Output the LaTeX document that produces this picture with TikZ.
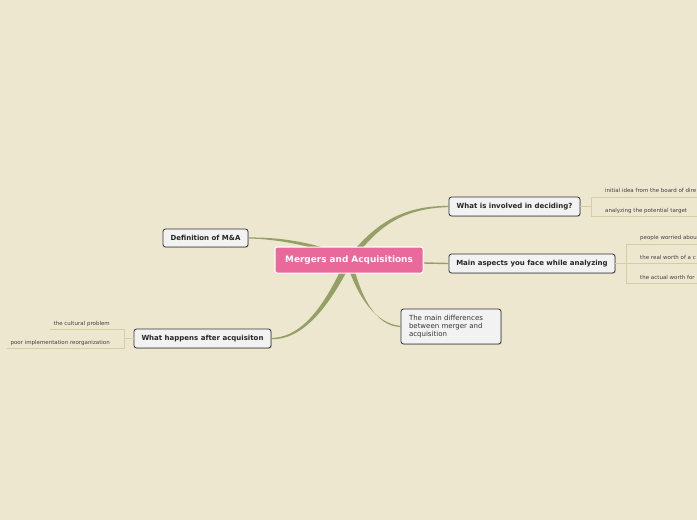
\documentclass[tikz,border=0pt]{standalone}
\usepackage{fontspec}
\setmainfont{DejaVu Sans}
\usetikzlibrary{positioning,shadows}

\definecolor{paper}{HTML}{EEE7D0}
\definecolor{rose}{HTML}{E8699A}
\definecolor{olive}{HTML}{95A067}
\definecolor{tanline}{HTML}{D3CEA4}
\definecolor{boxgray}{HTML}{F2F2F2}

\begin{document}
\begin{tikzpicture}[x = 1pt, y = -1pt, % pixel grid, y down
        central/.style = {draw = white, fill = rose, rounded corners = 2pt,
            line width = 1pt, text = white,
            font = \fontsize{8.9}{10}\selectfont\bfseries,
            minimum width = 148pt, minimum height = 26pt},
        topic/.style = {draw = black!80, fill = boxgray, rounded corners = 2.5pt,
            line width = 0.8pt, font = \fontsize{7}{8}\selectfont\bfseries,
            text = black!85, minimum height = 19pt, inner sep = 0pt,
            drop shadow = {shadow xshift = 0.8pt, shadow yshift = -0.8pt, opacity = 0.3}},
        leaf/.style = {font = \fontsize{5.5}{6}\selectfont, text = black!75,
            inner sep = 0pt},
        bracket/.style = {draw = tanline, line width = 0.8pt},
        branch/.style = {fill = olive}
    ]

    \fill[paper] (0,0) rectangle (697,520);
    \useasboundingbox (0,0) rectangle (697,520);

    % main topics
    \node[central] (ma) at (349,260) {Mergers and Acquisitions};
    \node[topic, minimum width = 131pt] (decide) at (514.5,206.5) {What is involved in deciding?};
    \node[topic, minimum width = 166pt] (aspects) at (532,263.5) {Main aspects you face while analyzing};
    \node[topic, minimum width = 85pt, minimum height = 18pt] (define) at (205.5,238) {Definition of M\&A};
    \node[topic, minimum width = 137pt] (after) at (202.5,338.5) {What happens after acquisiton};
    \node[topic, minimum width = 100pt, minimum height = 35pt, align = left,
        font = \fontsize{7}{8.4}\selectfont, text = black!80, text width = 84pt]
        (diff) at (451,326.5) {The main differences\\between merger and\\acquisition};

    % branches (tapered, drawn under the central node)
    \fill[branch] ([xshift = -3.5pt]ma.center) .. controls (370,230.5) and (395,205.5) .. ([yshift = 0.6pt]decide.west)
        -- ([yshift = -0.6pt]decide.west) .. controls (395,208.5) and (374,233.5) .. ([xshift = 3.5pt]ma.center) -- cycle;
    \fill[branch] ([xshift = -3.5pt]ma.center) .. controls (327.5,299) and (305,337.5) .. ([yshift = 0.6pt]after.east)
        -- ([yshift = -0.6pt]after.east) .. controls (305,340.5) and (332.5,301) .. ([xshift = 3.5pt]ma.center) -- cycle;
    \fill[branch] ([xshift = -3pt]ma.center) .. controls (356,295) and (375,323.7) .. ([yshift = 0.6pt]diff.west)
        -- ([yshift = -0.6pt]diff.west) .. controls (375,326.3) and (360,295) .. ([xshift = 3pt]ma.center) -- cycle;
    \fill[branch] ([yshift = 2.5pt]ma.center) .. controls (320,243.2) and (280,236.9) .. ([yshift = 0.5pt]define.east)
        -- ([yshift = -0.5pt]define.east) .. controls (280,239.1) and (320,246.8) .. ([yshift = -2.5pt]ma.center) -- cycle;
    \draw[olive, line width = 1.4pt] ([yshift = -3pt]ma.east) -- (aspects.west);
    \node[central] at (ma) {Mergers and Acquisitions};

    % leaves of "What is involved in deciding?"
    \coordinate (d0) at (591,206.5);
    \coordinate (d1) at (591,197); \coordinate (d2) at (591,216);
    \draw[bracket] (decide.east) -- (d0);
    \draw[bracket] (697,197) -- (d1) -- (d2) -- (697,216);
    \node[leaf, anchor = base west] (d1t) at (605,192.5) {initial idea from the board of dire};
    \node[leaf, anchor = base west] (d2t) at (605,212.5) {analyzing the potential target};

    % leaves of "Main aspects you face while analyzing"
    \coordinate (a0) at (626,263.5);
    \coordinate (a1) at (626,244); \coordinate (a2) at (626,263.5); \coordinate (a3) at (626,283);
    \draw[bracket] (aspects.east) -- (a0);
    \draw[bracket] (697,244) -- (a1) -- (a3) -- (697,283);
    \draw[bracket] (a2) -- (697,263.5);
    \node[leaf, anchor = base west] (a1t) at (640,239.5) {people worried abou};
    \node[leaf, anchor = base west] (a2t) at (640,259.5) {the real worth of a c};
    \node[leaf, anchor = base west] (a3t) at (640,279) {the actual worth for};

    % leaves of "What happens after acquisiton"
    \coordinate (h0) at (124,338.5);
    \coordinate (h1) at (124,329); \coordinate (h2) at (124,348);
    \coordinate (h1e) at (50,329); \coordinate (h2e) at (7,348);
    \draw[bracket] (after.west) -- (h0);
    \draw[bracket] (h1e) -- (h1) -- (h2) -- (h2e);
    \node[leaf, anchor = base east] (h1t) at (110,325.5) {the cultural problem};
    \node[leaf, anchor = base east] (h2t) at (110,344.5) {poor implementation reorganization};
\end{tikzpicture}
\end{document}
